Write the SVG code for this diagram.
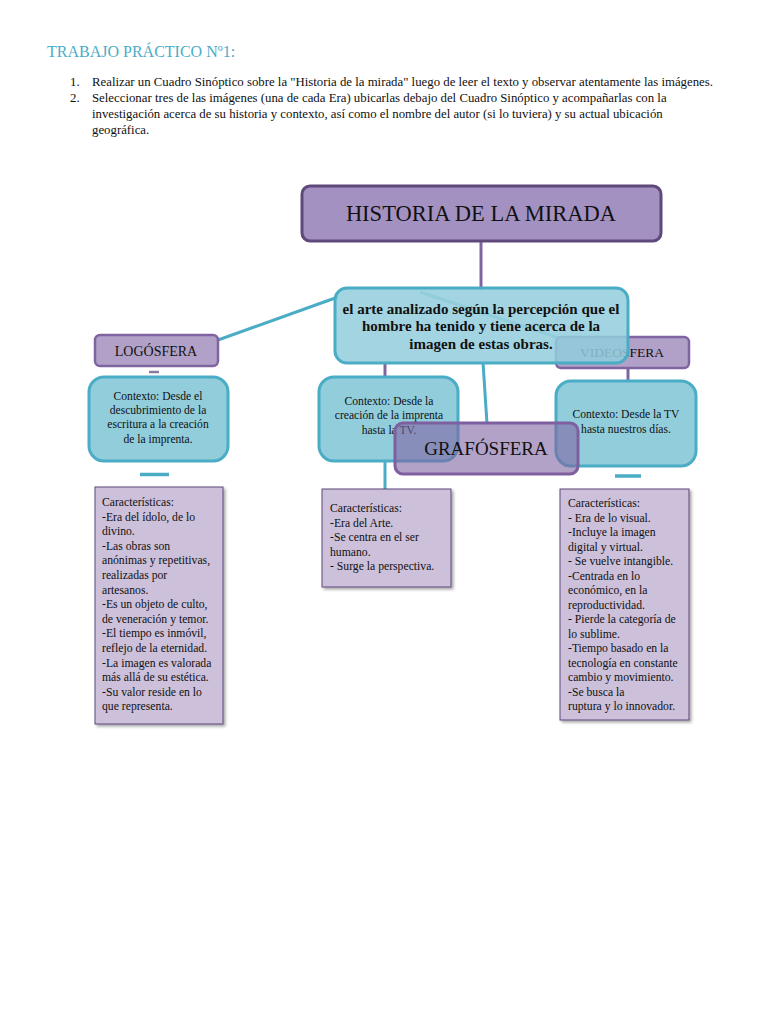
<svg xmlns="http://www.w3.org/2000/svg" width="768" height="1024" viewBox="0 0 768 1024">
<style>
text{font-family:"Liberation Serif","Times New Roman",serif;fill:#111}
.hdr{fill:#4BACC6;font-size:16px}
.ins{font-size:12.8px}
.era{fill:#B1A0C7;stroke:#8064A2;stroke-width:2.5}
.ctx{fill:#92CDDC;stroke:#4BACC6;stroke-width:3}
.car{fill:#CCC0DA;stroke:#5F497A;stroke-width:1}
.ct{font-size:11.6px;text-anchor:middle}
.cr{font-size:11.7px}
.tl{stroke:#4BACC6;stroke-width:3;fill:none}
.pl{stroke:#8064A2;stroke-width:3;fill:none}
</style>
<defs>
<filter id="sh" x="-10%" y="-10%" width="130%" height="130%">
<feDropShadow dx="2" dy="2" stdDeviation="1.5" flood-color="#000" flood-opacity="0.35"/>
</filter>
</defs>
<rect width="768" height="1024" fill="#fff"/>
<g id="header">
<text class="hdr" x="47" y="57">TRABAJO PRÁCTICO Nº1:</text>
<text class="ins" x="70" y="86">1.</text>
<text class="ins" x="92" y="86">Realizar un Cuadro Sinóptico sobre la "Historia de la mirada" luego de leer el texto y observar atentamente las imágenes.</text>
<text class="ins" x="70" y="102">2.</text>
<text class="ins" x="92" y="102">Seleccionar tres de las imágenes (una de cada Era) ubicarlas debajo del Cuadro Sinóptico y acompañarlas con la</text>
<text class="ins" x="92" y="118">investigación acerca de su historia y contexto, así como el nombre del autor (si lo tuviera) y su actual ubicación</text>
<text class="ins" x="92" y="134">geográfica.</text>
</g>
<g id="connectors">
<line class="pl" x1="481" y1="241" x2="481" y2="290"/>
<line class="tl" x1="338" y1="297" x2="218" y2="340"/>
<line class="tl" x1="420" y1="292" x2="580" y2="345" opacity="0.6"/>
<line class="tl" x1="483" y1="362" x2="487" y2="424"/>
<line class="pl" x1="385" y1="362" x2="385" y2="378"/>
<line class="pl" x1="628" y1="367" x2="628" y2="382"/>
<line x1="149" y1="372" x2="159" y2="372" stroke="#8A7BA0" stroke-width="2.5"/>
<line x1="140" y1="474.5" x2="169" y2="474.5" stroke="#4BACC6" stroke-width="3.5"/>
<line x1="615" y1="476" x2="641" y2="476" stroke="#4BACC6" stroke-width="3.5"/>
<line class="tl" x1="385" y1="460" x2="385" y2="490" stroke-width="2"/>
</g>
<g id="videosfera">
<rect class="era" x="556" y="337" width="133" height="31" rx="5"/>
<text x="622" y="357" font-size="13.5" text-anchor="middle">VIDEOSFERA</text>
</g>
<g id="titulo">
<rect x="302" y="186" width="359" height="55" rx="8" fill="#A391C1" stroke="#5F497A" stroke-width="3"/>
<text x="481" y="221" font-size="22.5" text-anchor="middle">HISTORIA DE LA MIRADA</text>
</g>
<g id="central">
<rect x="335" y="288" width="293" height="75" rx="12" fill="#92CDDC" fill-opacity="0.85" stroke="#4BACC6" stroke-width="3"/>
<text x="481" y="314" font-size="15" font-weight="bold" text-anchor="middle">el arte analizado según la percepción que el</text>
<text x="481" y="331" font-size="15" font-weight="bold" text-anchor="middle">hombre ha  tenido y tiene acerca de la</text>
<text x="481" y="349" font-size="15" font-weight="bold" text-anchor="middle">imagen de estas obras.</text>
</g>
<g id="logosfera">
<rect class="era" x="95" y="335" width="123" height="31" rx="5"/>
<text x="156" y="356" font-size="14" text-anchor="middle">LOGÓSFERA</text>
</g>
<g id="ctx-logo">
<rect class="ctx" x="89" y="377" width="139" height="84" rx="15"/>
<text class="ct" x="158" y="400">Contexto: Desde el</text>
<text class="ct" x="158" y="414">descubrimiento de la</text>
<text class="ct" x="158" y="428">escritura a la creación</text>
<text class="ct" x="158" y="443">de la imprenta.</text>
</g>
<g id="ctx-grafo">
<rect class="ctx" x="319" y="377" width="139" height="84" rx="15"/>
<text class="ct" x="389" y="405">Contexto: Desde la</text>
<text class="ct" x="389" y="419">creación de la imprenta</text>
<text class="ct" x="389" y="434">hasta la TV.</text>
</g>
<g id="ctx-video">
<rect class="ctx" x="556" y="381" width="140" height="85" rx="15"/>
<text class="ct" x="626" y="418">Contexto: Desde la TV</text>
<text class="ct" x="626" y="433">hasta nuestros días.</text>
</g>
<g id="grafosfera">
<rect x="395" y="423" width="183" height="51" rx="8" fill="#8064A2" fill-opacity="0.6" stroke="#7E5FA0" stroke-width="3"/>
<text x="486" y="455" font-size="19" text-anchor="middle">GRAFÓSFERA</text>
</g>
<g id="car-logo">
<rect class="car" x="95" y="487" width="128" height="237" filter="url(#sh)"/>
<text class="cr" x="102" y="506">Características:</text>
<text class="cr" x="102" y="520.6">-Era del ídolo, de lo</text>
<text class="cr" x="102" y="535.2">divino.</text>
<text class="cr" x="102" y="549.8">-Las obras son</text>
<text class="cr" x="102" y="564.4">anónimas y repetitivas,</text>
<text class="cr" x="102" y="579">realizadas por</text>
<text class="cr" x="102" y="593.6">artesanos.</text>
<text class="cr" x="102" y="608.2">-Es un objeto de culto,</text>
<text class="cr" x="102" y="622.8">de veneración y temor.</text>
<text class="cr" x="102" y="637.4">-El tiempo es inmóvil,</text>
<text class="cr" x="102" y="652">reflejo de la eternidad.</text>
<text class="cr" x="102" y="666.6">-La imagen es valorada</text>
<text class="cr" x="102" y="681.2">más allá de su estética.</text>
<text class="cr" x="102" y="695.8">-Su valor reside en lo</text>
<text class="cr" x="102" y="710.4">que representa.</text>
</g>
<g id="car-grafo">
<rect class="car" x="322" y="489" width="129" height="98" filter="url(#sh)"/>
<text class="cr" x="330" y="512">Características:</text>
<text class="cr" x="330" y="526.6">-Era del Arte.</text>
<text class="cr" x="330" y="541.2">-Se centra en el ser</text>
<text class="cr" x="330" y="555.8">humano.</text>
<text class="cr" x="330" y="570.4">- Surge la perspectiva.</text>
</g>
<g id="car-video">
<rect class="car" x="560" y="489" width="129" height="231" filter="url(#sh)"/>
<text class="cr" x="568" y="507">Características:</text>
<text class="cr" x="568" y="521.5">- Era de lo visual.</text>
<text class="cr" x="568" y="536">-Incluye la imagen</text>
<text class="cr" x="568" y="550.5">digital y virtual.</text>
<text class="cr" x="568" y="565">- Se vuelve intangible.</text>
<text class="cr" x="568" y="579.5">-Centrada en lo</text>
<text class="cr" x="568" y="594">económico, en la</text>
<text class="cr" x="568" y="608.5">reproductividad.</text>
<text class="cr" x="568" y="623">- Pierde la categoría de</text>
<text class="cr" x="568" y="637.5">lo sublime.</text>
<text class="cr" x="568" y="652">-Tiempo basado en la</text>
<text class="cr" x="568" y="666.5">tecnología en constante</text>
<text class="cr" x="568" y="681">cambio y movimiento.</text>
<text class="cr" x="568" y="695.5">-Se busca la</text>
<text class="cr" x="568" y="710">ruptura y lo innovador.</text>
</g>
</svg>
